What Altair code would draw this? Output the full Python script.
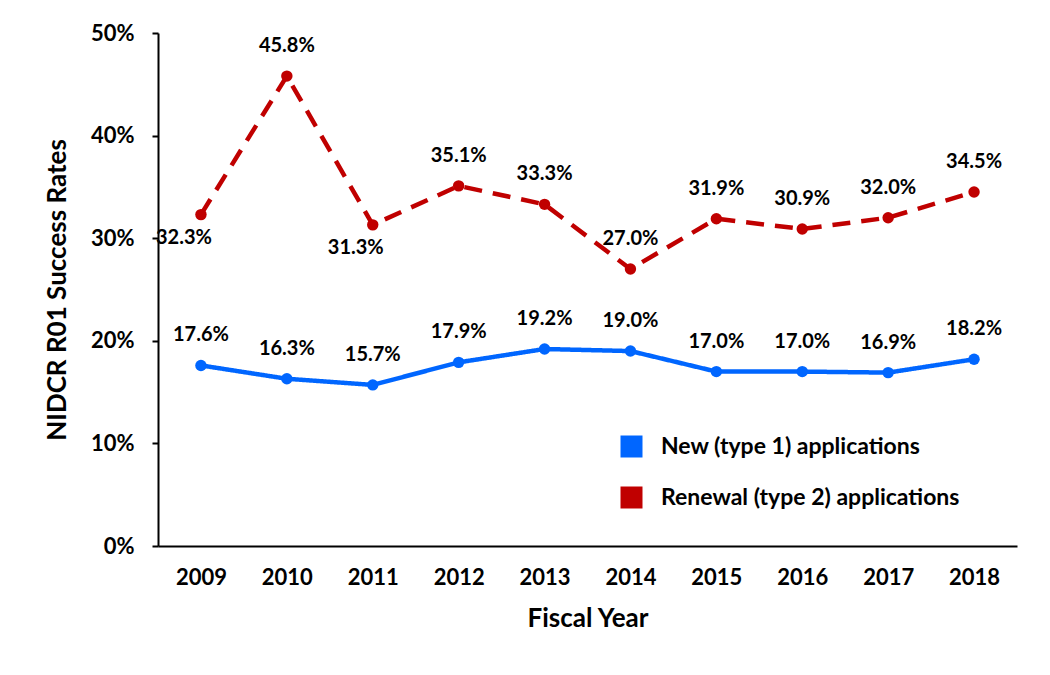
import altair as alt
import pandas as pd

# Valores
years = ["2009", "2010", "2011", "2012", "2013", "2014", "2015", "2016", "2017", "2018"]
new_rates = [17.6, 16.3, 15.7, 17.9, 19.2, 19.0, 17.0, 17.0, 16.9, 18.2]
renewal_rates = [32.3, 45.8, 31.3, 35.1, 33.3, 27.0, 31.9, 30.9, 32.0, 34.5]
series_names = ["New (type 1) applications", "Renewal (type 2) applications"]
y_ticks = [0, 10, 20, 30, 40, 50]

df = pd.DataFrame({
    "year": years * 2,
    "rate": new_rates + renewal_rates,
    "series": [series_names[0]] * len(years) + [series_names[1]] * len(years),
})
df["label"] = df["rate"].map(lambda v: f"{v:.1f}%")

FONT = "Lato"

color_scale = alt.Scale(domain=series_names, range=["#0066FF", "#C00000"])

# mesma legenda nas duas camadas para que o Vega-Lite as junte
legend = alt.Legend(orient="none", legendX=462, legendY=402,
                    symbolType="square", symbolSize=484,
                    symbolStrokeWidth=0, symbolOpacity=1, labelFontSize=23,
                    labelFont=FONT, labelFontWeight="bold", labelColor="black",
                    labelOffset=18, rowPadding=27, labelLimit=400)

x_enc = alt.X(
    "year:N",
    title="Fiscal Year",
    scale=alt.Scale(paddingInner=0, paddingOuter=0.5),
    axis=alt.Axis(labelAngle=0, ticks=False, labelPadding=21, titlePadding=17),
)
y_enc = alt.Y(
    "rate:Q",
    title="NIDCR R01 Success Rates",
    scale=alt.Scale(domain=[0, 50]),
    axis=alt.Axis(values=y_ticks, labelExpr="datum.value + '%'", grid=False,
                  tickSize=6, labelPadding=18, titlePadding=20),
)

base = alt.Chart(df).encode(x=x_enc, y=y_enc)

lines = base.mark_line(strokeWidth=4.5).encode(
    color=alt.Color("series:N", scale=color_scale, title=None, legend=legend),
    strokeDash=alt.StrokeDash("series:N", scale=alt.Scale(domain=series_names, range=[[1, 0], [18, 11]]), legend=None),
)

points = base.mark_point(filled=True, size=130, opacity=1).encode(
    color=alt.Color("series:N", scale=color_scale, title=None, legend=legend),
)

# rótulos abaixo dos pontos: renovação 2009 e 2011
below = (alt.datum.series == series_names[1]) & ((alt.datum.year == "2009") | (alt.datum.year == "2011"))

labels_above = base.mark_text(dy=-30, fontSize=20, font=FONT, fontWeight="bold", color="black").encode(
    text="label:N"
).transform_filter(~below)

labels_below = base.mark_text(dx=-17, dy=23, fontSize=20, font=FONT, fontWeight="bold", color="black").encode(
    text="label:N"
).transform_filter(below)

chart = alt.layer(lines, points, labels_above, labels_below).properties(
    width=859,
    height=513,
    autosize="none",
    padding={"left": 150, "top": 25, "right": 25, "bottom": 121},
).configure_view(
    stroke=None
).configure_axis(
    domainColor="black",
    domainWidth=2,
    tickColor="black",
    tickWidth=2,
    labelFont=FONT,
    labelFontSize=22,
    labelFontWeight="bold",
    labelColor="black",
    titleFont=FONT,
    titleFontSize=26,
    titleFontWeight="bold",
    titleColor="black",
)

chart.save("out.html", embed_options={"renderer": "svg", "actions": False})
